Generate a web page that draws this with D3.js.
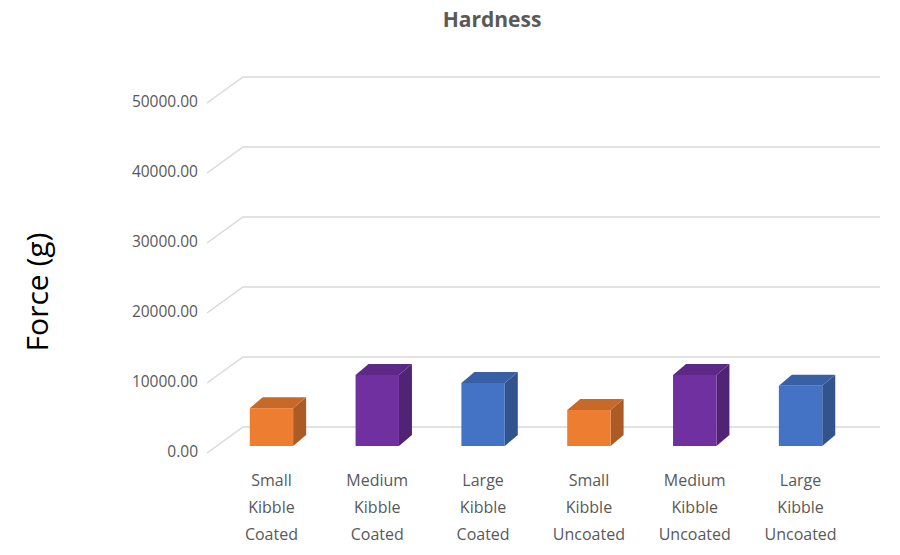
<!DOCTYPE html>
<html>
<head>
<meta charset="utf-8">
<script src="https://cdn.jsdelivr.net/npm/d3@7"></script>
<style>
  body { margin: 0; background: #fff; }
  text { font-family: "Open Sans", "Noto Sans", sans-serif; }
</style>
</head>
<body>
<svg id="chart" width="900" height="555"></svg>
<script>
// chart data
const categories = [
    ['Small', 'Kibble', 'Coated'],
    ['Medium', 'Kibble', 'Coated'],
    ['Large', 'Kibble', 'Coated'],
    ['Small', 'Kibble', 'Uncoated'],
    ['Medium', 'Kibble', 'Uncoated'],
    ['Large', 'Kibble', 'Uncoated']
];
const forceValues = [5400, 10150, 9000, 5150, 10150, 8600];
const barColors = ['#ed7d31', '#7030a0', '#4472c4', '#ed7d31', '#7030a0', '#4472c4'];
const yTicks = [0, 10000, 20000, 30000, 40000, 50000];

const svg = d3.select('#chart');

// front plane of the bars
const y = d3.scaleLinear().domain([0, 50000]).range([446, 96]);
const x = d3.scaleBand().domain(d3.range(categories.length))
    .range([218, 854]).paddingInner(0.59).paddingOuter(0.3);

const depthX = 13, depthY = 11;

// gridlines (slanted floor edge then horizontal back wall)
yTicks.forEach(v => {
    const yy = y(v);
    svg.append('polyline')
        .attr('points', `207,${yy + 7} 243,${yy - 19} 880,${yy - 19}`)
        .attr('fill', 'none')
        .attr('stroke', '#d9d9d9')
        .attr('stroke-width', 1.5);
    svg.append('text')
        .attr('x', 198).attr('y', yy + 7)
        .attr('text-anchor', 'end').attr('dominant-baseline', 'middle')
        .attr('font-size', 15.5).attr('fill', '#595959')
        .text(v.toFixed(2));
});

// bars: front, right side, top
forceValues.forEach((v, i) => {
    const x0 = x(i), w = x.bandwidth(), top = y(v), bot = y(0);
    const base = d3.color(barColors[i]);
    const g = svg.append('g');
    g.append('polygon')
        .attr('points', `${x0 + w},${top} ${x0 + w + depthX},${top - depthY} ${x0 + w + depthX},${bot - depthY} ${x0 + w},${bot}`)
        .attr('fill', base.darker(0.9));
    g.append('polygon')
        .attr('points', `${x0},${top} ${x0 + depthX},${top - depthY} ${x0 + w + depthX},${top - depthY} ${x0 + w},${top}`)
        .attr('fill', base.darker(0.5));
    g.append('rect')
        .attr('x', x0).attr('y', top)
        .attr('width', w).attr('height', bot - top)
        .attr('fill', base);
});

// category labels
categories.forEach((lines, i) => {
    const cx = x(i) + x.bandwidth() / 2;
    lines.forEach((t, j) => {
        svg.append('text')
            .attr('x', cx).attr('y', 486 + j * 27)
            .attr('text-anchor', 'middle')
            .attr('font-size', 16).attr('fill', '#595959')
            .text(t);
    });
});

// title
svg.append('text')
    .attr('x', 492).attr('y', 27)
    .attr('text-anchor', 'middle')
    .attr('font-size', 21).attr('font-weight', 'bold').attr('fill', '#595959')
    .text('Hardness');

// y axis title
svg.append('text')
    .attr('transform', 'translate(48,292) rotate(-90)')
    .attr('text-anchor', 'middle')
    .attr('font-size', 30).attr('fill', '#000')
    .text('Force (g)');
</script>
</body>
</html>
